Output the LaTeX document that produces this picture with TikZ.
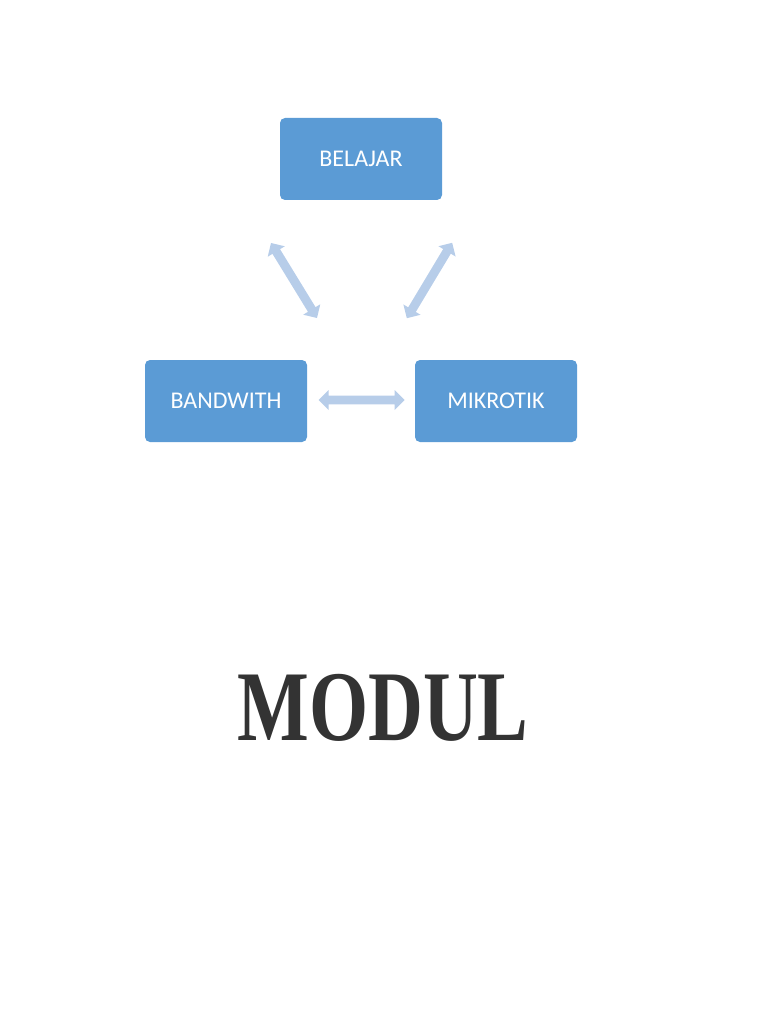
\documentclass[tikz,border=0pt]{standalone}
\usepackage{fontspec}
\setmainfont{Carlito}
\newfontfamily\modulfont{Liberation Serif}
\usetikzlibrary{shapes.arrows}
\definecolor{boxblue}{HTML}{5B9BD5}
\definecolor{arrblue}{HTML}{B7CDE9}
\definecolor{modgray}{HTML}{333333}
\tikzset{
  box/.style={fill=boxblue,rounded corners=5pt,minimum width=162pt,minimum height=82pt,text=white,font=\fontsize{24}{28}\selectfont,inner sep=0pt},
  darr/.style={double arrow,fill=arrblue,minimum height=#1,minimum width=20pt,double arrow head extend=4pt,inner sep=3pt,double arrow head indent=0pt}
}
\begin{document}
\begin{tikzpicture}[x=1pt,y=-1pt]
\useasboundingbox (0,0) rectangle (768,1024);
\node[box] (bel) at (361,159) {BELAJAR};
\node[box] (ban) at (226,401) {BANDWITH};
\node[box] (mik) at (496,401) {MIKROTIK};
\node[darr=88pt,rotate=-58.5] (a1) at (294,280.5) {};
\node[darr=88pt,rotate=59] (a2) at (429.5,280.5) {};
\node[darr=86pt] (a3) at (361.5,400) {};
\node[text=modgray,font=\modulfont\bfseries\fontsize{100}{100}\selectfont,xscale=0.76,inner sep=0pt] (mod) at (383,708) {MODUL};
\end{tikzpicture}
\end{document}
